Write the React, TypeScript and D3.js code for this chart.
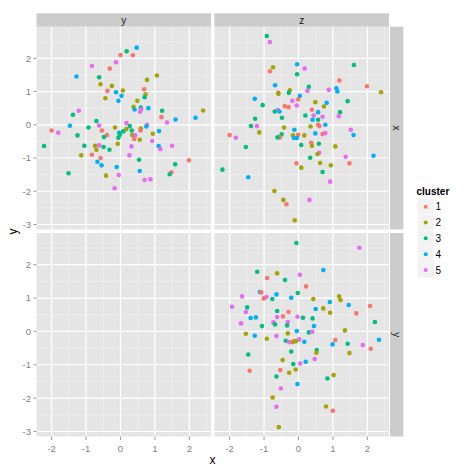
import React from "react";
import * as d3 from "d3";

const clusters = ["1", "2", "3", "4", "5"];
const palette = ["#F8766D", "#A3A500", "#00BF7D", "#00B0F6", "#E76BF3"];
const colFacets = ["y", "z"];
const rowFacets = ["x", "y"];
const xTicks = [-2, -1, 0, 1, 2];
const yTicks = [-3, -2, -1, 0, 1, 2];

// [horizontal value, vertical value, cluster]
const panelYX: [number, number, number][] = [
  [0.47, 2.32, 4], [0.18, 2.21, 3], [0, 2.1, 1], [0.36, 2.09, 1], [-0.13, 1.88, 5], [-0.83, 1.77, 5],
  [-0.31, 1.69, 1], [-1.28, 1.45, 4], [-0.62, 1.43, 3], [1.06, 1.48, 2], [0.77, 1.35, 2], [-0.58, 1.22, 2],
  [-0.25, 1.17, 2], [-0.38, 1.02, 1], [0.07, 1.03, 2], [0.69, 1.07, 1], [-0.13, 0.98, 4], [0.03, 0.87, 4],
  [0.73, 0.92, 2], [0.7, 0.83, 3], [-0.44, 0.8, 2], [-0.06, 0.72, 4], [0.49, 0.72, 2], [0.38, 0.54, 2],
  [0.41, 0.46, 4], [0.59, 0.52, 3], [0.6, 0.46, 5], [0.57, 0.39, 5], [0.81, 0.5, 4], [-1.21, 0.42, 5],
  [-1.38, 0.3, 3], [1.21, 0.42, 3], [1.19, 0.23, 1], [1.6, 0.16, 4], [2.18, 0.21, 4], [2.4, 0.43, 2],
  [1.35, 0.07, 5], [-0.7, 0.11, 3], [0.17, 0.05, 5], [-0.62, -0.02, 5], [-1.47, -0.03, 4], [-0.93, -0.08, 3],
  [-0.16, -0.08, 2], [0.27, -0.04, 3], [0.17, -0.13, 2], [0.08, -0.2, 3], [0.33, -0.17, 3], [0.77, 0.0, 5],
  [0.75, -0.05, 4], [0.59, -0.11, 2], [0.58, -0.17, 1], [-2.0, -0.17, 1], [-1.81, -0.24, 5], [-0.54, -0.17, 1],
  [-0.04, -0.24, 4], [-0.02, -0.3, 3], [0.34, -0.31, 2], [0.4, -0.43, 1], [0.43, -0.32, 5], [1.12, -0.19, 4],
  [0.94, -0.27, 2], [-0.39, -0.31, 1], [-0.48, -0.37, 3], [-1.25, -0.32, 3], [-0.06, -0.39, 3], [-0.08, -0.57, 2],
  [0.56, -0.45, 2], [0.92, -0.49, 5], [-2.22, -0.64, 3], [-1.05, -0.63, 3], [-0.74, -0.63, 2], [-0.62, -0.62, 5],
  [-0.49, -0.67, 3], [-0.7, -0.75, 2], [-0.32, -0.75, 3], [0.32, -0.65, 5], [1.11, -0.64, 4], [1.16, -0.73, 5],
  [1.5, -0.63, 5], [-1.14, -0.92, 2], [-0.83, -0.9, 1], [0.26, -0.92, 5], [-0.58, -1.0, 1], [0.54, -1.05, 3],
  [-0.67, -1.11, 4], [-0.55, -1.22, 4], [1.59, -1.19, 3], [1.99, -1.07, 1], [-0.11, -1.27, 4], [0.56, -1.39, 4],
  [1.48, -1.43, 1], [1.43, -1.49, 3], [-1.51, -1.46, 3], [-0.42, -1.53, 2], [-0.05, -1.51, 5], [0.7, -1.66, 5],
  [0.87, -1.64, 5], [-0.17, -1.91, 5],
];

const panelZX: [number, number, number][] = [
  [-0.92, 2.67, 3], [-0.83, 2.49, 5], [-0.04, 1.82, 4], [1.61, 1.8, 3], [0.18, 1.69, 5], [-0.74, 1.73, 2],
  [-0.83, 1.61, 1], [-0.04, 1.52, 3], [1.19, 1.33, 1], [1.99, 1.16, 1], [2.4, 0.98, 2], [-0.68, 1.19, 4],
  [0.3, 1.14, 3], [-0.25, 1.04, 2], [-0.28, 0.96, 3], [-0.59, 0.96, 1], [-0.58, 0.93, 2], [0.26, 1.02, 5],
  [0.88, 1.05, 5], [1.1, 1.1, 4], [1.13, 1.0, 4], [0.04, 0.87, 4], [-0.01, 0.76, 1], [-0.18, 0.72, 5],
  [-1.27, 0.78, 4], [1.43, 0.71, 3], [0.49, 0.68, 2], [0.82, 0.66, 4], [-0.05, 0.58, 5], [0.74, 0.55, 2],
  [-1.04, 0.59, 3], [-0.4, 0.56, 1], [-0.29, 0.53, 1], [0.39, 0.45, 1], [0.57, 0.38, 4], [-0.6, 0.44, 5],
  [-0.69, 0.4, 3], [-0.55, 0.4, 4], [1.21, 0.38, 3], [1.17, 0.26, 5], [0.2, 0.28, 3], [0.44, 0.28, 5],
  [0.7, 0.24, 5], [0.41, 0.15, 4], [0.57, 0.15, 3], [-0.48, 0.21, 3], [-1.26, 0.18, 3], [0.57, 0.0, 1],
  [0.78, 0.0, 4], [-1.38, -0.04, 3], [-1.21, -0.04, 5], [0.35, -0.05, 2], [-0.42, -0.08, 2], [0.61, -0.04, 1],
  [1.52, -0.15, 5], [-0.12, -0.15, 4], [-1.14, -0.23, 2], [-2.0, -0.31, 1], [-1.82, -0.39, 5], [-0.49, -0.29, 3],
  [0.49, -0.26, 4], [0.7, -0.28, 1], [0.78, -0.25, 5], [-0.16, -0.32, 2], [-0.01, -0.3, 1], [-0.13, -0.4, 4],
  [-0.05, -0.4, 4], [0.17, -0.32, 2], [-0.54, -0.38, 1], [-0.61, -0.38, 3], [1.6, -0.31, 4], [-1.53, -0.67, 3],
  [0.08, -0.61, 3], [0.37, -0.54, 1], [0.39, -0.63, 2], [0.59, -0.57, 3], [1.07, -0.65, 2], [0.6, -0.84, 5],
  [0.55, -0.88, 2], [0.34, -0.99, 3], [1.37, -0.96, 5], [2.18, -0.93, 4], [-0.06, -1.16, 1], [0.63, -1.15, 2],
  [1.48, -1.16, 1], [0.94, -1.22, 2], [0.08, -1.29, 2], [-2.21, -1.35, 3], [0.7, -1.42, 3], [-1.46, -1.58, 4],
  [0.92, -1.71, 5], [-0.7, -1.99, 2], [-0.44, -2.26, 2], [0.32, -2.26, 5], [-0.35, -2.39, 1], [-0.11, -2.87, 2],
];

const panelZY: [number, number, number][] = [
  [-0.06, 2.65, 3], [1.77, 2.51, 5], [-1.2, 1.79, 3], [-0.62, 1.74, 2], [-0.91, 1.6, 1], [0.04, 1.7, 5],
  [0.72, 1.84, 4], [-0.39, 1.54, 3], [0.22, 1.35, 1], [-1.12, 1.18, 4], [-1.08, 1.17, 1], [-0.64, 1.11, 4],
  [-0.02, 1.15, 3], [-1.64, 1.05, 5], [-0.93, 1.03, 5], [-1.01, 0.99, 1], [-0.76, 0.97, 3], [-0.21, 1.01, 4],
  [0.43, 0.97, 2], [1.18, 1.05, 2], [1.22, 0.94, 2], [0.91, 0.88, 4], [1.46, 0.79, 4], [2.08, 0.76, 1],
  [-1.93, 0.74, 5], [-1.49, 0.72, 3], [0.72, 0.69, 2], [0.5, 0.67, 4], [-1.53, 0.58, 5], [-0.62, 0.61, 3],
  [-0.29, 0.58, 1], [1.68, 0.54, 1], [0.92, 0.56, 2], [-1.39, 0.4, 4], [-1.24, 0.42, 4], [-0.62, 0.43, 5],
  [-0.45, 0.45, 1], [-0.03, 0.44, 5], [0.13, 0.41, 3], [0.41, 0.39, 3], [-1.67, 0.24, 5], [-0.73, 0.27, 5],
  [-0.68, 0.21, 3], [-0.31, 0.28, 5], [-1.06, 0.16, 3], [-0.33, 0.18, 3], [0.45, 0.16, 4], [2.22, 0.28, 3],
  [-1.53, -0.07, 2], [-1.27, -0.13, 4], [-0.64, -0.14, 5], [-0.31, -0.06, 2], [-0.05, 0.01, 4], [0.3, -0.03, 3],
  [0.4, -0.01, 5], [1.35, 0.03, 2], [-0.92, -0.22, 2], [-0.37, -0.28, 3], [-0.27, -0.32, 5], [-0.18, -0.32, 1],
  [-0.13, -0.3, 2], [-0.07, -0.29, 2], [0.02, -0.24, 5], [0.17, -0.31, 4], [1.07, -0.26, 1], [0.99, -0.39, 4],
  [1.43, -0.37, 3], [1.87, -0.41, 5], [2.1, -0.52, 1], [2.34, -0.25, 4], [-0.21, -0.6, 3], [0.53, -0.56, 3],
  [0.52, -0.64, 2], [1.48, -0.65, 2], [-1.46, -0.69, 3], [-0.46, -0.86, 2], [0.47, -0.83, 5], [0.21, -0.91, 4],
  [0.05, -0.96, 5], [-0.15, -0.98, 3], [-0.08, -1.14, 2], [-0.53, -1.16, 1], [-1.42, -1.18, 1], [-0.27, -1.24, 2],
  [1.02, -1.31, 2], [-0.64, -1.35, 3], [0.84, -1.41, 3], [-0.03, -1.58, 4], [-0.51, -1.71, 5], [-0.75, -1.98, 2],
  [-0.64, -2.26, 5], [0.8, -2.25, 2], [1.0, -2.38, 1], [-0.57, -2.87, 2],
];

const xDomain: [number, number] = [-2.44, 2.63];
const yDomain: [number, number] = [-3.15, 2.95];

const colRanges: [number, number][] = [[36.5, 211], [214.5, 389]];
const rowRanges: [number, number][] = [[229.5, 26.7], [436.5, 233]];

const FONT = "'Liberation Sans', Arial, sans-serif";

function Panel({ ci, ri, pts }: { ci: number; ri: number; pts: [number, number, number][] | null }) {
  const xs = d3.scaleLinear().domain(xDomain).range(colRanges[ci]);
  const ys = d3.scaleLinear().domain(yDomain).range(rowRanges[ri]);
  const [x0, x1] = colRanges[ci];
  const [y1, y0] = rowRanges[ri];
  const minorX = d3.range(-2.5, 3, 1).filter((v) => v > xDomain[0] && v < xDomain[1]);
  const minorY = d3.range(-3.5, 3, 1).filter((v) => v > yDomain[0] && v < yDomain[1]);
  return (
    <g>
      <rect x={x0} y={y0} width={x1 - x0} height={y1 - y0} fill="#E5E5E5" />
      {minorX.map((v) => (
        <line key={"mx" + v} x1={xs(v)} x2={xs(v)} y1={y0} y2={y1} stroke="#F2F2F2" strokeWidth={0.6} />
      ))}
      {minorY.map((v) => (
        <line key={"my" + v} x1={x0} x2={x1} y1={ys(v)} y2={ys(v)} stroke="#F2F2F2" strokeWidth={0.6} />
      ))}
      {xTicks.map((v) => (
        <line key={"Mx" + v} x1={xs(v)} x2={xs(v)} y1={y0} y2={y1} stroke="#FFFFFF" strokeWidth={1.2} />
      ))}
      {yTicks.map((v) => (
        <line key={"My" + v} x1={x0} x2={x1} y1={ys(v)} y2={ys(v)} stroke="#FFFFFF" strokeWidth={1.2} />
      ))}
      {pts &&
        pts.map((p, i) => (
          <circle key={i} cx={xs(p[0])} cy={ys(p[1])} r={2.3} fill={palette[p[2] - 1]} />
        ))}
    </g>
  );
}

export default function App() {
  const panels: { ci: number; ri: number; pts: [number, number, number][] | null }[] = [
    { ci: 0, ri: 0, pts: panelYX },
    { ci: 1, ri: 0, pts: panelZX },
    { ci: 0, ri: 1, pts: null },
    { ci: 1, ri: 1, pts: panelZY },
  ];
  const stripTop = 13.3;
  const stripRightX = 390;
  const legendRows = [206.7, 222.5, 238.3, 254.2, 270];
  return (
    <svg
      width={474}
      height={474}
      style={{ position: "absolute", left: 0, top: 0, background: "#fff" }}
      fontFamily={FONT}
    >
      <rect width={474} height={474} fill="#fff" />
      {panels.map((p, i) => (
        <Panel key={i} {...p} />
      ))}
      {/* top strips */}
      {colFacets.map((c, i) => (
        <g key={"cs" + c}>
          <rect x={colRanges[i][0]} y={stripTop} width={colRanges[i][1] - colRanges[i][0]} height={rowRanges[0][1] - stripTop} fill="#CCCCCC" />
          <text x={(colRanges[i][0] + colRanges[i][1]) / 2} y={(stripTop + rowRanges[0][1]) / 2 + 3.5} textAnchor="middle" fontSize={10} fill="#1A1A1A">
            {c}
          </text>
        </g>
      ))}
      {/* right strips */}
      {rowFacets.map((r, i) => {
        const cy = (rowRanges[i][0] + rowRanges[i][1]) / 2;
        return (
          <g key={"rs" + i}>
            <rect x={stripRightX} y={rowRanges[i][1]} width={13.4} height={rowRanges[i][0] - rowRanges[i][1]} fill="#CCCCCC" />
            <text transform={`translate(${stripRightX + 6.7 - 3.5},${cy}) rotate(90)`} textAnchor="middle" fontSize={10} fill="#1A1A1A">
              {r}
            </text>
          </g>
        );
      })}
      {/* y axes */}
      {rowRanges.map((rr, i) => {
        const ys = d3.scaleLinear().domain(yDomain).range(rr);
        return (
          <g key={"ya" + i}>
            {yTicks.map((v) => (
              <g key={v}>
                <line x1={33.5} x2={36.5} y1={ys(v)} y2={ys(v)} stroke="#7F7F7F" strokeWidth={0.8} />
                <text x={31} y={ys(v) + 3.4} textAnchor="end" fontSize={9.5} fill="#7F7F7F">
                  {String(v)}
                </text>
              </g>
            ))}
          </g>
        );
      })}
      {/* x axes */}
      {colRanges.map((cr, i) => {
        const xs = d3.scaleLinear().domain(xDomain).range(cr);
        return (
          <g key={"xa" + i}>
            {xTicks.map((v) => (
              <g key={v}>
                <line x1={xs(v)} x2={xs(v)} y1={436.5} y2={440} stroke="#7F7F7F" strokeWidth={0.8} />
                <text x={xs(v)} y={451.5} textAnchor="middle" fontSize={9.5} fill="#7F7F7F">
                  {String(v)}
                </text>
              </g>
            ))}
          </g>
        );
      })}
      <text x={212.5} y={464} textAnchor="middle" fontSize={12} fill="#000">
        x
      </text>
      <text transform="translate(17,231.5) rotate(-90)" textAnchor="middle" fontSize={12} fill="#000">
        y
      </text>
      {/* legend */}
      <text x={416.5} y={195} fontSize={10} fontWeight="bold" fill="#000">
        cluster
      </text>
      {clusters.map((c, i) => (
        <g key={"lg" + c}>
          <rect x={417.5} y={legendRows[i] - 8} width={16.5} height={16} fill="#F2F2F2" stroke="#FFFFFF" strokeWidth={0.5} />
          <circle cx={425.7} cy={legendRows[i]} r={2} fill={palette[i]} />
          <text x={435.5} y={legendRows[i] + 3.6} fontSize={10} fill="#000">
            {c}
          </text>
        </g>
      ))}
    </svg>
  );
}
